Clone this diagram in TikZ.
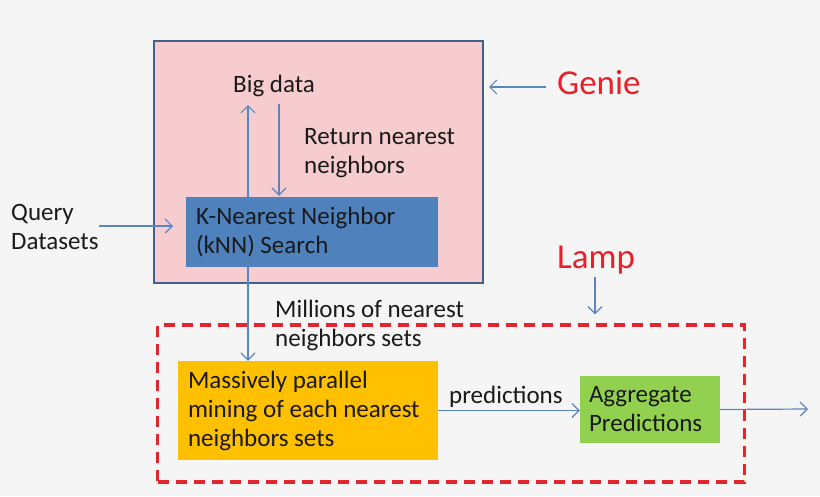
\documentclass[tikz,border=0pt]{standalone}
\usepackage{fontspec}
\setmainfont{Carlito}
\usetikzlibrary{arrows.meta,calc}
\definecolor{bg}{HTML}{F5F5F5}
\definecolor{pinkfill}{HTML}{F6CCCF}
\definecolor{pinkline}{HTML}{41618F}
\definecolor{knnblue}{HTML}{4F81BD}
\definecolor{gold}{HTML}{FFC000}
\definecolor{leaf}{HTML}{92D050}
\definecolor{lampred}{HTML}{E3262A}
\definecolor{titlered}{HTML}{E8202A}
\definecolor{arrblue}{HTML}{5A86C0}
\definecolor{ink}{HTML}{1A1A1A}
\newcommand{\fl}{\rule{0pt}{18pt}}
\tikzset{
  arr/.style={draw=arrblue, line width=1.2pt, -{Straight Barb[length=7pt,width=14pt]}},
  txt/.style={font=\fontsize{25}{29}\selectfont, text=ink, inner sep=0pt},
  blk/.style={txt, align=flush left, anchor=north west},
  title/.style={font=\fontsize{35}{40}\selectfont, text=titlered, inner sep=0pt, anchor=base west},
  boxnode/.style={txt, align=flush left, inner xsep=10pt, inner ysep=0pt, anchor=center}
}
\begin{document}
\begin{tikzpicture}[x=1pt,y=-1pt]
\fill[bg] (0,0) rectangle (820,496);
\useasboundingbox (0,0) rectangle (820,496);
% Genie box
\node (pink) [draw=pinkline, fill=pinkfill, line width=2pt, minimum width=329pt, minimum height=242pt, inner sep=0pt] at (318.5,162) {};
\node (knn) [boxnode, fill=knnblue, minimum width=252pt, minimum height=70pt, text width=232pt] at (312,232) {K-Nearest Neighbor\\(kNN) Search};
\node (bigdata) [txt, anchor=base west] at (233,92) {Big data};
\node (ret) [blk] at (304,126) {\fl Return nearest\\neighbors};
\node (query) [blk] at (11,202) {\fl Query\\Datasets};
% Lamp box
\node (lamp) [draw=lampred, dash pattern=on 11pt off 7pt, line width=3.2pt, minimum width=587pt, minimum height=157pt, inner sep=0pt] at (451,403.5) {};
\node (mine) [boxnode, fill=gold, minimum width=260pt, minimum height=99pt, text width=240pt] at (308,410.5) {Massively parallel\\mining of each nearest\\neighbors sets};
\node (agg) [boxnode, fill=leaf, minimum width=140pt, minimum height=67pt, text width=122pt, inner xsep=9pt] at (650,409.5) {Aggregate\\Predictions};
\node (mill) [blk] at (275,299) {\fl Millions of nearest\\neighbors sets};
\node (pred) [txt, anchor=base west] at (449,403) {predictions};
\node (genie) [title] at (557,94) {Genie};
\node (lamplbl) [title] at (557,268) {Lamp};
% coordinates
\coordinate (bdl) at (248,105);
\coordinate (bdr) at (279,104);
\coordinate (qs) at (99,226);
\coordinate (qe) at (173,226);
\coordinate (ga) at (546,87);
\coordinate (la) at (595,277);
\coordinate (outp) at (808,409);
% connectors
\draw[arr] (bdl |- knn.north) -- (bdl);
\draw[arr] (bdr) -- ($(bdr |- knn.north)+(0,-1)$);
\draw[arr] (qs) -- (qe);
\draw[arr] (bdl |- knn.south) -- (bdl |- mine.north);
\draw[arr] (mine.east) -- (mine.east -| agg.west);
\draw[arr] (agg.east) -- (outp);
\draw[arr] (ga) -- ($(ga -| pink.east)+(5,0)$);
\draw[arr] (la) -- ($(la |- lamp.north)+(0,-9)$);
\end{tikzpicture}
\end{document}
